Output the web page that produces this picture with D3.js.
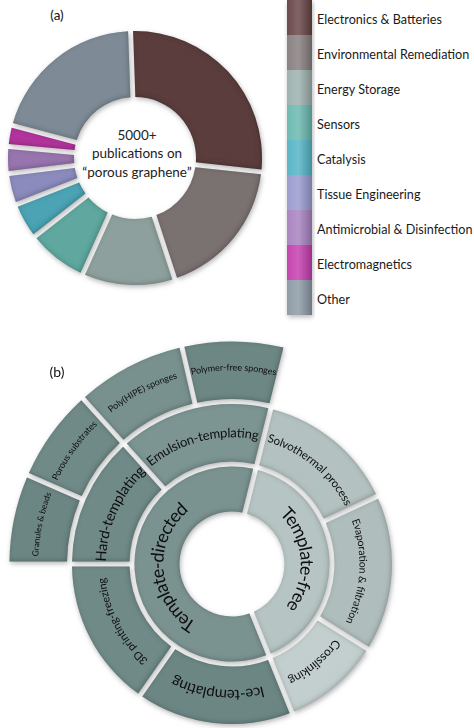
<!DOCTYPE html>
<html>
<head>
<meta charset="utf-8">
<script src="https://cdn.jsdelivr.net/npm/d3@7"></script>
<style>
  body { margin: 0; background: #fff; }
  svg { display: block; font-family: Lato, "Open Sans", sans-serif; }
</style>
</head>
<body>
<svg id="chart" width="474" height="728"></svg>
<script>
// (a) publications on porous graphene, share of the ring in %
var pubCategories = ["Electronics & Batteries", "Environmental Remediation", "Energy Storage",
  "Sensors", "Catalysis", "Tissue Engineering", "Antimicrobial & Disinfection",
  "Electromagnetics", "Other"];
var pubShares = [27.3, 18.2, 11.8, 7.7, 4.6, 4.0, 3.4, 2.7, 20.3];
var pubColors = ["#5c3c3e", "#7a7171", "#8da09d", "#5ea79f", "#4ba3b3",
  "#8b8bbd", "#9775ae", "#b2369e", "#7e8b96"];

// (b) preparation routes, leaf values in degrees of the circle
var methodNames = ["Template-free", "Template-directed",
  "Solvothermal process", "Evaporation & filtration", "Crosslinking",
  "Ice-templating", "3D printing-freezing", "Hard-templating", "Emulsion-templating",
  "Granules & beads", "Porous substrates", "Poly(HIPE) sponges", "Polymer-free sponges"];
var methodParents = ["root", "root",
  "Template-free", "Template-free", "Template-free",
  "Template-directed", "Template-directed", "Template-directed", "Template-directed",
  "Hard-templating", "Hard-templating", "Emulsion-templating", "Emulsion-templating"];
var methodValues = [0, 0, 51, 57, 36, 57, 55, 0, 0, 23.5, 24.5, 29, 27];

var methodColors = {
  "Template-free": "#b6c4c3", "Template-directed": "#7a9391",
  "Solvothermal process": "#b3c1c0", "Evaporation & filtration": "#afbdbc", "Crosslinking": "#c3cfce",
  "Ice-templating": "#6c8684", "3D printing-freezing": "#708a88",
  "Hard-templating": "#708a88", "Emulsion-templating": "#7b9492",
  "Granules & beads": "#6c8684", "Porous substrates": "#708a88",
  "Poly(HIPE) sponges": "#78918f", "Polymer-free sponges": "#6d8785"
};
var methodFont = {
  "Template-free": 18, "Template-directed": 18,
  "Solvothermal process": 11.5, "Evaporation & filtration": 10.5, "Crosslinking": 12,
  "Ice-templating": 15, "3D printing-freezing": 11, "Hard-templating": 14.5,
  "Emulsion-templating": 13, "Granules & beads": 8.5, "Porous substrates": 9,
  "Poly(HIPE) sponges": 9, "Polymer-free sponges": 9
};

var svg = d3.select("#chart");
var defs = svg.append("defs");

// soft outer shadow
var shadow = defs.append("filter").attr("id", "shadow")
  .attr("x", "-10%").attr("y", "-10%").attr("width", "120%").attr("height", "120%");
shadow.append("feDropShadow").attr("dx", 1).attr("dy", 2).attr("stdDeviation", 2.5)
  .attr("flood-color", "#777").attr("flood-opacity", 0.55);

// darkened inner edges, a bit stronger at bottom right
var bevel = defs.append("filter").attr("id", "bevel")
  .attr("x", "-5%").attr("y", "-5%").attr("width", "110%").attr("height", "110%");
bevel.append("feGaussianBlur").attr("in", "SourceAlpha").attr("stdDeviation", 2.5).attr("result", "b");
bevel.append("feOffset").attr("in", "b").attr("dx", -1).attr("dy", -1).attr("result", "bo");
bevel.append("feComposite").attr("in", "SourceAlpha").attr("in2", "bo").attr("operator", "out").attr("result", "edge");
bevel.append("feFlood").attr("flood-color", "#000").attr("flood-opacity", 0.45);
bevel.append("feComposite").attr("in2", "edge").attr("operator", "in").attr("result", "shade");
var bm = bevel.append("feMerge");
bm.append("feMergeNode").attr("in", "SourceGraphic");
bm.append("feMergeNode").attr("in", "shade");

// ---------- (a) donut ----------
var deg = Math.PI / 180;
var donut = svg.append("g").attr("transform", "translate(135,158)");

var pie = d3.pie().value(function(d) { return d; }).sort(null)
  .startAngle(-2 * deg).endAngle(358 * deg);

var arcA = d3.arc().innerRadius(61).outerRadius(127)
  .padAngle(0.05).padRadius(100);

var color = d3.scaleOrdinal().domain(pubCategories).range(pubColors);

donut.append("g").attr("filter", "url(#shadow)")
  .selectAll("path")
  .data(pie(pubShares))
  .enter().append("path")
  .attr("d", arcA)
  .attr("fill", function(d, i) { return color(pubCategories[i]); })
  .attr("filter", "url(#bevel)");

var centerLines = ["5000+", "publications on", "\u201Cporous graphene\u201D"];
donut.append("text")
  .attr("text-anchor", "middle")
  .style("font-size", "13.5px")
  .attr("fill", "#222")
  .selectAll("tspan")
  .data(centerLines)
  .enter().append("tspan")
  .attr("x", 2)
  .attr("y", function(d, i) { return -23 + i * 18.5; })
  .attr("dy", "0.35em")
  .text(function(d) { return d; });

svg.append("text").attr("x", 57).attr("y", 15).attr("dy", "0.35em")
  .attr("text-anchor", "middle").style("font-size", "13.5px").attr("fill", "#111").text("(a)");

// legend
var legendY = d3.scaleBand().domain(pubCategories).range([0, 315]);
var legend = svg.append("g");
var lgGrad = defs.append("linearGradient").attr("id", "lgShade");
lgGrad.append("stop").attr("offset", "0%").attr("stop-color", "#fff").attr("stop-opacity", 0.05);
lgGrad.append("stop").attr("offset", "45%").attr("stop-color", "#fff").attr("stop-opacity", 0.18);
lgGrad.append("stop").attr("offset", "100%").attr("stop-color", "#000").attr("stop-opacity", 0.2);

var bar = legend.append("g").attr("filter", "url(#shadow)");
bar.selectAll("rect.sw")
  .data(pubCategories)
  .enter().append("rect")
  .attr("class", "sw")
  .attr("x", 287).attr("width", 25)
  .attr("y", function(d) { return legendY(d); })
  .attr("height", legendY.bandwidth())
  .attr("fill", function(d) { return d3.color(color(d)).brighter(0.25); });
bar.append("rect").attr("x", 287).attr("width", 25).attr("y", 0).attr("height", 315)
  .attr("fill", "url(#lgShade)");

legend.selectAll("text")
  .data(pubCategories)
  .enter().append("text")
  .attr("x", 317)
  .attr("y", function(d) { return legendY(d) + legendY.bandwidth() / 2 + 2; })
  .attr("dy", "0.35em")
  .style("font-size", "12.6px")
  .attr("fill", "#1a1a1a")
  .text(function(d) { return d; });

// ---------- (b) sunburst ----------
var table = [{ name: "root", parent: "" }].concat(methodNames.map(function(n, i) {
  return { name: n, parent: methodParents[i], value: methodValues[i] };
}));
var root = d3.stratify().id(function(d) { return d.name; }).parentId(function(d) { return d.parent; })(table)
  .sum(function(d) { return d.value || 0; });
d3.partition().size([2 * Math.PI, 4])(root);

var offset = 14 * deg;
var ring = d3.scaleLinear().domain([1, 2, 3, 4]).range([50, 100, 162.5, 225]);
var inner = function(d) { return ring(d.y0) + 2.5; };
var outer = function(d) { return ring(d.y1) - 2.5; };

var arcB = d3.arc()
  .startAngle(function(d) { return d.x0 + offset; })
  .endAngle(function(d) { return d.x1 + offset; })
  .innerRadius(inner).outerRadius(outer)
  .padAngle(0.05).padRadius(100);

var sun = svg.append("g").attr("transform", "translate(232,564)");
var nodes = root.descendants().filter(function(d) { return d.depth > 0; });

sun.append("g").attr("filter", "url(#shadow)")
  .selectAll("path")
  .data(nodes)
  .enter().append("path")
  .attr("d", arcB)
  .attr("fill", function(d) { return methodColors[d.id]; })
  .attr("filter", "url(#bevel)");

sun.append("g").selectAll("path")
  .data(nodes)
  .enter().append("path")
  .attr("id", function(d, i) { return "lp" + i; })
  .attr("fill", "none")
  .attr("d", function(d) {
    var r = (inner(d) + outer(d)) / 2 + (d.depth === 3 ? 3 : 0);
    var p = d3.path();
    p.arc(0, 0, r, d.x0 + offset - Math.PI / 2, d.x1 + offset - Math.PI / 2, false);
    return p.toString();
  });

sun.append("g").selectAll("text")
  .data(nodes)
  .enter().append("text")
  .attr("dy", "0.35em")
  .style("font-size", function(d) { return methodFont[d.id] + "px"; })
  .attr("fill", "#0e0e0e")
  .append("textPath")
  .attr("href", function(d, i) { return "#lp" + i; })
  .attr("startOffset", "50%")
  .attr("text-anchor", "middle")
  .text(function(d) { return d.id; });

svg.append("text").attr("x", 57).attr("y", 372).attr("dy", "0.35em")
  .attr("text-anchor", "middle").style("font-size", "14px").attr("fill", "#111").text("(b)");
</script>
</body>
</html>
